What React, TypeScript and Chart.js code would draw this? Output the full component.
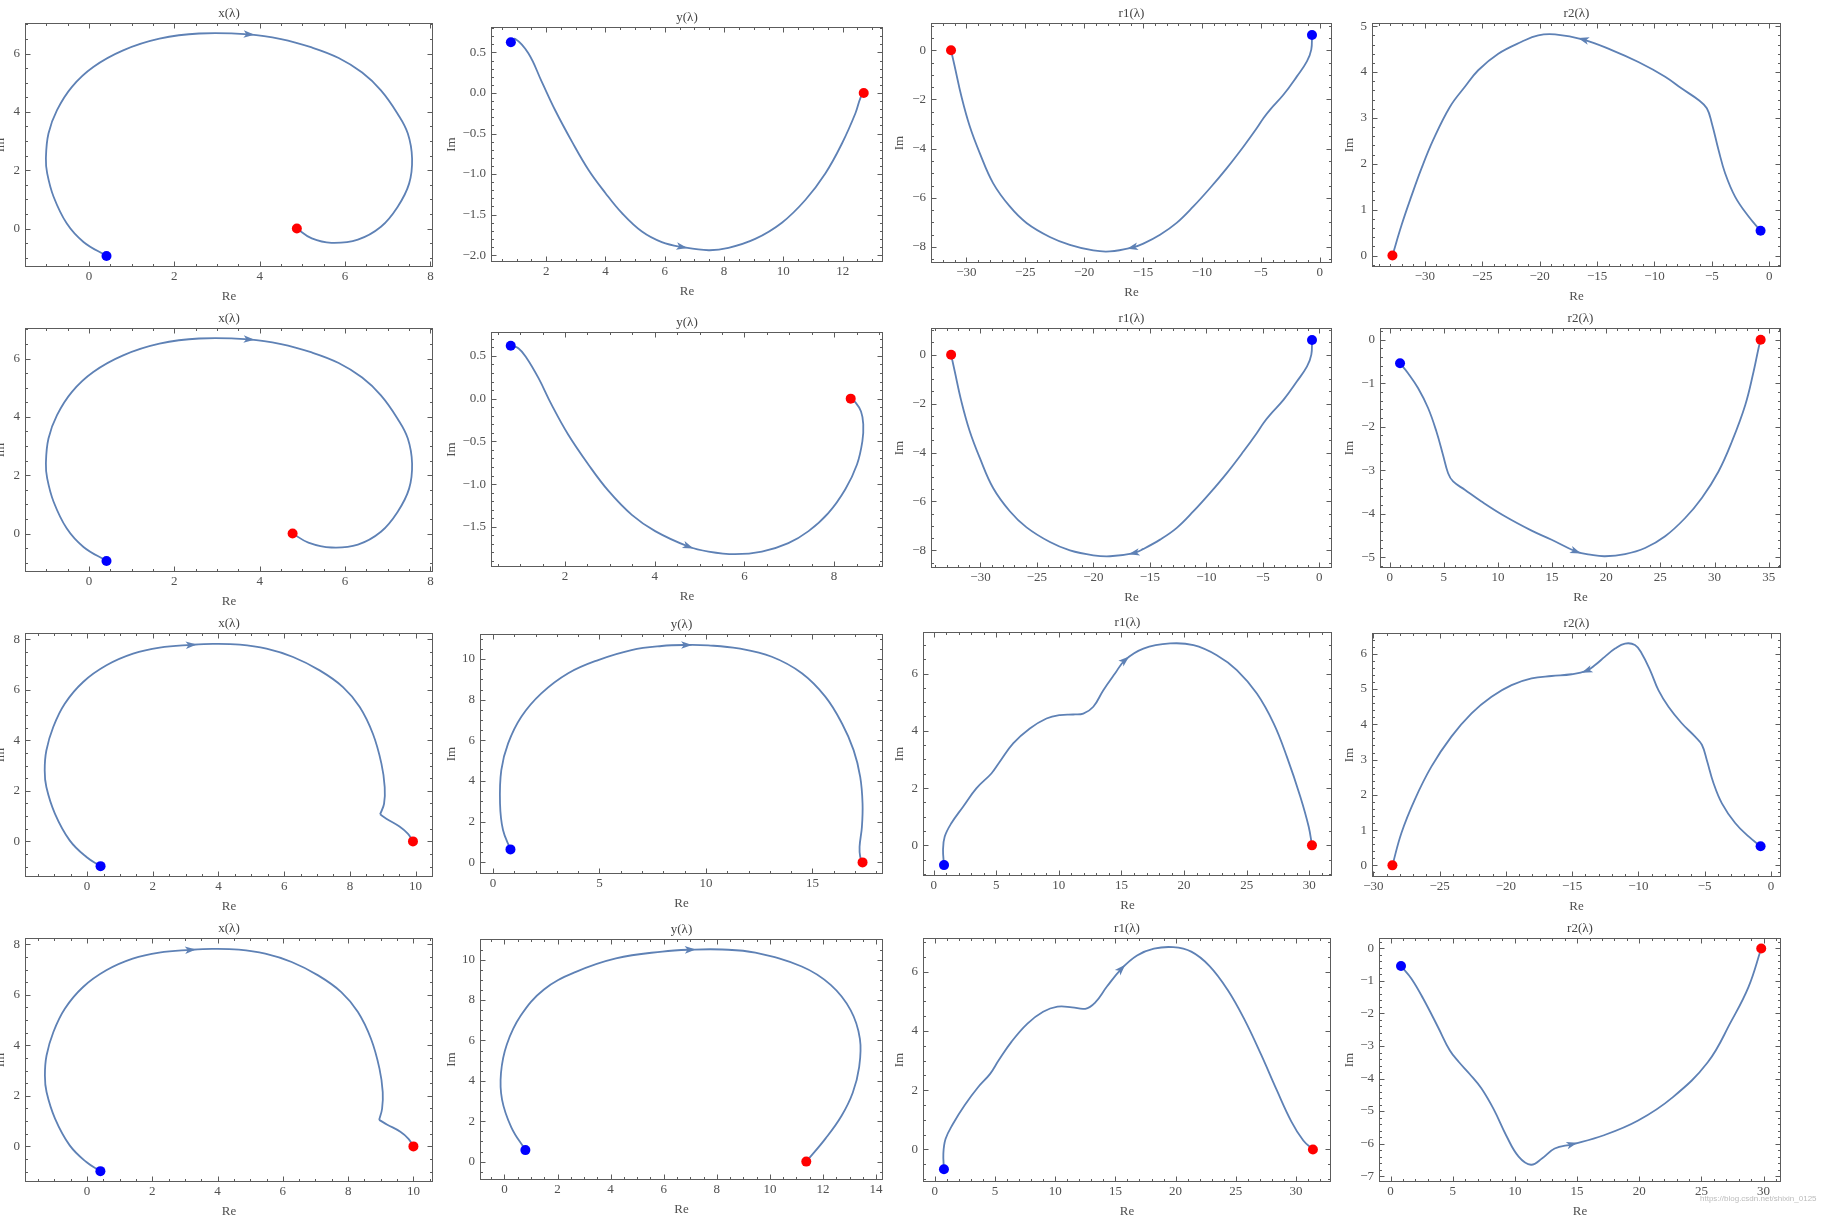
import React, { useEffect, useRef } from "react";
import { Chart, registerables } from "chart.js";

Chart.register(...registerables);

type Pt = [number, number];

// ---------------- data: curves (Re, Im) from blue start to red end ----------------
const xLamA: Pt[] = [[0.41,-0.94],[-0.13,-0.46],[-0.52,0.17],[-0.83,1.09],[-0.98,1.89],[-1.01,2.40],[-0.95,3.26],[-0.75,4.06],[-0.40,4.86],[0.10,5.54],[0.80,6.11],[1.65,6.51],[2.58,6.69],[3.75,6.66],[4.50,6.50],[5.20,6.22],[5.85,5.85],[6.40,5.35],[6.84,4.74],[7.23,3.94],[7.47,3.26],[7.57,2.40],[7.50,1.54],[7.23,0.74],[6.84,0.06],[6.30,-0.38],[5.68,-0.49],[5.22,-0.34],[4.87,0]];
const yLamA: Pt[] = [[0.81,0.625],[0.95,0.67],[1.40,0.49],[1.85,0.14],[2.30,-0.21],[2.87,-0.60],[3.43,-0.95],[3.99,-1.23],[4.55,-1.48],[5.23,-1.71],[5.90,-1.84],[6.58,-1.90],[7.48,-1.94],[8.15,-1.91],[9.05,-1.80],[9.95,-1.60],[10.74,-1.32],[11.42,-0.99],[11.98,-0.62],[12.43,-0.25],[12.60,-0.06],[12.71,0]];
const r1LamA: Pt[] = [[-0.65,0.62],[-0.71,0.03],[-1.08,-0.45],[-1.93,-1.06],[-3.06,-1.80],[-4.20,-2.41],[-4.76,-2.75],[-5.33,-3.16],[-6.46,-3.91],[-7.88,-4.79],[-9.30,-5.60],[-10.72,-6.35],[-12.14,-7.02],[-13.55,-7.50],[-14.97,-7.86],[-15.9,-8.02],[-17.81,-8.18],[-19.22,-8.14],[-21.21,-7.91],[-22.91,-7.59],[-24.89,-7.02],[-26.31,-6.35],[-27.73,-5.40],[-28.86,-4.18],[-29.71,-3.09],[-30.42,-1.87],[-30.99,-0.65],[-31.30,0]];
const r2LamA: Pt[] = [[-0.76,0.54],[-1.80,0.85],[-2.97,1.28],[-3.84,1.79],[-4.42,2.30],[-5.00,2.88],[-5.44,3.21],[-6.16,3.39],[-7.62,3.64],[-9.07,3.90],[-11.40,4.22],[-13.72,4.48],[-16.19,4.71],[-18.66,4.82],[-20.12,4.80],[-21.57,4.66],[-23.60,4.40],[-25.35,4.04],[-26.51,3.68],[-27.82,3.24],[-29.27,2.52],[-30.29,1.90],[-31.16,1.30],[-32.03,0.66],[-32.82,0]];

const xLamB: Pt[] = [[0.41,-0.94],[-0.13,-0.46],[-0.52,0.17],[-0.83,1.09],[-0.98,1.89],[-1.01,2.40],[-0.95,3.26],[-0.75,4.06],[-0.40,4.86],[0.10,5.54],[0.80,6.11],[1.65,6.51],[2.58,6.69],[3.75,6.66],[4.50,6.50],[5.20,6.22],[5.85,5.85],[6.40,5.35],[6.84,4.74],[7.23,3.94],[7.47,3.26],[7.57,2.40],[7.50,1.54],[7.23,0.74],[6.84,0.06],[6.30,-0.38],[5.68,-0.48],[5.14,-0.31],[4.77,0]];
const yLamB: Pt[] = [[0.79,0.62],[0.96,0.59],[1.14,0.48],[1.41,0.24],[1.70,-0.07],[2.07,-0.42],[2.52,-0.77],[2.97,-1.08],[3.49,-1.36],[4.01,-1.55],[4.75,-1.73],[5.20,-1.79],[5.79,-1.82],[6.39,-1.79],[6.98,-1.69],[7.43,-1.55],[7.87,-1.34],[8.25,-1.06],[8.51,-0.77],[8.63,-0.50],[8.65,-0.30],[8.60,-0.15],[8.47,-0.04],[8.37,0]];
const r1LamB: Pt[] = [[-0.65,0.60],[-0.71,0],[-1.09,-0.48],[-1.98,-1.09],[-3.16,-1.84],[-4.35,-2.45],[-4.94,-2.79],[-5.53,-3.20],[-6.71,-3.95],[-8.19,-4.84],[-9.67,-5.65],[-11.14,-6.40],[-12.62,-7.08],[-14.10,-7.56],[-15.58,-7.94],[-16.41,-8.11],[-18.53,-8.24],[-20.01,-8.20],[-22.08,-8.00],[-23.85,-7.66],[-25.92,-7.06],[-27.40,-6.40],[-28.88,-5.45],[-30.06,-4.22],[-30.95,-3.13],[-31.69,-1.91],[-32.28,-0.68],[-32.60,0]];
const r2LamB: Pt[] = [[0.96,-0.54],[1.70,-0.77],[2.62,-1.11],[3.55,-1.57],[4.32,-2.11],[4.93,-2.65],[5.40,-3.07],[5.86,-3.26],[6.94,-3.45],[8.48,-3.72],[10.64,-4.06],[13.11,-4.39],[14.96,-4.60],[17.2,-4.87],[18.66,-4.95],[19.89,-4.98],[21.74,-4.93],[23.59,-4.79],[25.44,-4.52],[27.29,-4.10],[28.83,-3.64],[30.37,-3.03],[31.61,-2.34],[32.84,-1.50],[33.61,-0.73],[34.07,-0.19],[34.26,0]];

const xLamC: Pt[] = [[0.41,-0.98],[-0.02,-0.62],[-0.53,0.04],[-0.98,1.10],[-1.24,2.15],[-1.29,2.81],[-1.24,3.60],[-1.03,4.53],[-0.68,5.45],[-0.12,6.31],[0.59,6.97],[1.40,7.43],[2.21,7.67],[3.17,7.78],[3.83,7.82],[4.65,7.79],[5.46,7.63],[6.27,7.30],[7.08,6.77],[7.79,6.11],[8.30,5.32],[8.70,4.26],[8.96,3.08],[9.06,2.15],[9.04,1.49],[8.92,1.07],[9.11,0.90],[9.51,0.59],[9.77,0.30],[9.92,0]];
const yLamC: Pt[] = [[0.82,0.64],[0.47,1.59],[0.33,2.90],[0.39,4.54],[0.71,5.85],[1.33,7.16],[2.27,8.31],[3.53,9.30],[4.94,9.95],[6.50,10.44],[7.92,10.64],[9.09,10.69],[10.11,10.67],[11.52,10.52],[13.09,10.11],[14.50,9.30],[15.60,8.15],[16.38,6.84],[16.93,5.52],[17.24,4.21],[17.35,2.90],[17.32,1.75],[17.21,0.77],[17.24,0.28],[17.35,0]];
const r1LamC: Pt[] = [[0.83,-0.69],[0.75,-0.16],[0.88,0.30],[1.41,0.77],[2.35,1.35],[3.41,1.99],[4.61,2.51],[5.28,2.92],[6.35,3.56],[7.68,4.08],[9.01,4.43],[10.08,4.55],[11.15,4.57],[11.95,4.60],[12.75,4.84],[13.55,5.42],[14.48,6.00],[15.28,6.47],[16.75,6.87],[18.88,7.05],[20.75,6.99],[22.61,6.64],[24.21,6.12],[25.81,5.30],[27.15,4.26],[28.21,3.09],[29.28,1.70],[29.95,0.65],[30.21,0]];
const r2LamC: Pt[] = [[-0.78,0.54],[-1.69,0.82],[-2.70,1.20],[-3.70,1.76],[-4.33,2.33],[-4.84,2.99],[-5.21,3.42],[-5.72,3.65],[-6.73,4.03],[-7.73,4.50],[-8.49,4.97],[-9.12,5.54],[-9.75,6.01],[-10.26,6.25],[-11.01,6.29],[-11.76,6.15],[-12.52,5.92],[-13.27,5.68],[-13.90,5.52],[-15.04,5.42],[-16.55,5.37],[-18.06,5.30],[-19.57,5.11],[-21.08,4.78],[-22.59,4.31],[-24.11,3.65],[-25.62,2.80],[-26.88,1.86],[-27.88,0.92],[-28.56,0]];

const xLamD: Pt[] = [[0.41,-0.98],[-0.02,-0.62],[-0.53,0.04],[-0.98,1.10],[-1.24,2.15],[-1.29,2.81],[-1.24,3.60],[-1.03,4.53],[-0.68,5.45],[-0.12,6.31],[0.59,6.97],[1.40,7.43],[2.21,7.67],[3.17,7.78],[3.83,7.82],[4.65,7.79],[5.46,7.63],[6.27,7.30],[7.08,6.77],[7.79,6.11],[8.30,5.32],[8.70,4.26],[8.96,3.08],[9.06,2.15],[9.04,1.49],[8.95,1.05],[9.20,0.86],[9.60,0.58],[9.85,0.30],[10.0,0]];
const yLamD: Pt[] = [[0.79,0.57],[0.26,1.70],[-0.09,3.07],[-0.13,4.38],[0.09,5.80],[0.61,7.22],[1.49,8.52],[2.67,9.38],[4.20,10.06],[5.95,10.40],[7.0,10.49],[8.2,10.50],[9.45,10.34],[11.20,9.66],[12.29,8.75],[13.04,7.50],[13.39,6.08],[13.36,4.66],[13.12,3.41],[12.70,2.27],[12.10,1.15],[11.37,0]];
const r1LamD: Pt[] = [[0.77,-0.67],[0.72,-0.15],[0.90,0.35],[1.50,0.85],[2.50,1.50],[3.60,2.10],[4.60,2.55],[5.30,3.00],[6.40,3.65],[7.70,4.25],[9.00,4.65],[10.20,4.82],[11.40,4.80],[12.50,4.75],[13.30,4.95],[14.30,5.50],[15.50,6.10],[16.80,6.55],[18.20,6.78],[19.80,6.83],[21.30,6.68],[22.80,6.20],[24.30,5.40],[25.70,4.40],[27.10,3.20],[28.40,2.00],[29.60,0.95],[30.60,0.30],[31.40,0]];
const r2LamD: Pt[] = [[0.84,-0.54],[1.68,-0.93],[2.62,-1.54],[3.83,-2.43],[4.77,-3.14],[5.51,-3.50],[6.36,-3.86],[7.30,-4.30],[8.30,-4.95],[9.30,-5.75],[10.30,-6.40],[11.30,-6.65],[12.20,-6.45],[13.20,-6.15],[14.60,-6.02],[17.10,-5.75],[19.91,-5.29],[22.71,-4.57],[25.51,-3.50],[27.38,-2.25],[28.79,-1.18],[29.81,0]];

// ---------------- tick values ----------------
const ticks0to8by2 = [0, 2, 4, 6, 8];
const ticks0to6by2 = [0, 2, 4, 6];
const ticks2to12by2 = [2, 4, 6, 8, 10, 12];
const ticks2to8by2 = [2, 4, 6, 8];
const ticksHalfA = [0.5, 0, -0.5, -1, -1.5, -2];
const ticksHalfB = [0.5, 0, -0.5, -1, -1.5];
const ticksNeg30to0 = [-30, -25, -20, -15, -10, -5, 0];
const ticksNeg8to0 = [-8, -6, -4, -2, 0];
const ticks0to5 = [0, 1, 2, 3, 4, 5];
const ticks0to6 = [0, 1, 2, 3, 4, 5, 6];
const ticks0to35by5 = [0, 5, 10, 15, 20, 25, 30, 35];
const ticks0to30by5 = [0, 5, 10, 15, 20, 25, 30];
const ticks0to15by5 = [0, 5, 10, 15];
const ticksNeg5to0 = [-5, -4, -3, -2, -1, 0];
const ticksNeg7to0 = [-7, -6, -5, -4, -3, -2, -1, 0];
const ticks0to10by2 = [0, 2, 4, 6, 8, 10];
const ticks0to14by2 = [0, 2, 4, 6, 8, 10, 12, 14];

const TITLES = ["x(\u03bb)", "y(\u03bb)", "r1(\u03bb)", "r2(\u03bb)"];
const X_LABEL = "Re";
const Y_LABEL = "Im";
const WATERMARK = "https://blog.csdn.net/shixin_0125";

// ---------------- styling / layout ----------------
const FONT = '"Liberation Serif", "Times New Roman", "DejaVu Serif", serif';
const CURVE = "#5E81B5";
const FRAME = "#5c5c5c";
const TEXT = "#505050";
const IM_X = [1, 452, 900, 1350];

interface Panel {
  col: number;
  curve: Pt[];
  arrow: number;
  breaks: number[];
  xr: [number, number];
  yr: [number, number];
  xt: number[];
  yt: number[];
  xm: number;
  ym: number;
  dec: number;
  box: [number, number, number, number];
}

const PANELS: Panel[] = [
  { col: 0, curve: xLamA, arrow: 13, breaks: [], xr: [-1.5, 8.06], yr: [-1.32, 7.05], xt: ticks0to8by2, yt: ticks0to6by2, xm: 0.5, ym: 0.5, dec: 0, box: [25, 23, 433, 267] },
  { col: 1, curve: yLamA, arrow: 11, breaks: [], xr: [0.14, 13.36], yr: [-2.085, 0.814], xt: ticks2to12by2, yt: ticksHalfA, xm: 0.5, ym: 0.1, dec: 1, box: [491, 27, 883, 262] },
  { col: 2, curve: r1LamA, arrow: 15, breaks: [], xr: [-33.0, 1.05], yr: [-8.65, 1.11], xt: ticksNeg30to0, yt: ticksNeg8to0, xm: 1, ym: 0.5, dec: 0, box: [931, 23, 1332, 263] },
  { col: 3, curve: r2LamA, arrow: 12, breaks: [], xr: [-34.6, 1.02], yr: [-0.25, 5.07], xt: ticksNeg30to0, yt: ticks0to5, xm: 1, ym: 0.2, dec: 0, box: [1372, 23, 1781, 267] },

  { col: 0, curve: xLamB, arrow: 13, breaks: [], xr: [-1.5, 8.06], yr: [-1.32, 7.05], xt: ticks0to8by2, yt: ticks0to6by2, xm: 0.5, ym: 0.5, dec: 0, box: [25, 328, 433, 572] },
  { col: 1, curve: yLamB, arrow: 10, breaks: [], xr: [0.35, 9.09], yr: [-1.97, 0.78], xt: ticks2to8by2, yt: ticksHalfB, xm: 0.5, ym: 0.1, dec: 1, box: [491, 332, 883, 567] },
  { col: 2, curve: r1LamB, arrow: 15, breaks: [], xr: [-34.38, 1.12], yr: [-8.72, 1.09], xt: ticksNeg30to0, yt: ticksNeg8to0, xm: 1, ym: 0.5, dec: 0, box: [931, 328, 1332, 568] },
  { col: 3, curve: r2LamB, arrow: 13, breaks: [], xr: [-0.89, 36.14], yr: [-5.25, 0.27], xt: ticks0to35by5, yt: ticksNeg5to0, xm: 1, ym: 0.2, dec: 0, box: [1380, 328, 1781, 568] },

  { col: 0, curve: xLamC, arrow: 13, breaks: [25], xr: [-1.89, 10.53], yr: [-1.41, 8.25], xt: ticks0to10by2, yt: ticks0to8by2, xm: 0.5, ym: 0.5, dec: 0, box: [25, 633, 433, 877] },
  { col: 1, curve: yLamC, arrow: 11, breaks: [], xr: [-0.61, 18.31], yr: [-0.57, 11.23], xt: ticks0to15by5, yt: ticks0to10by2, xm: 1, ym: 0.5, dec: 0, box: [480, 634, 883, 874] },
  { col: 2, curve: r1LamC, arrow: 17, breaks: [], xr: [-0.85, 31.81], yr: [-1.07, 7.45], xt: ticks0to30by5, yt: ticks0to6by2, xm: 1, ym: 0.5, dec: 0, box: [923, 632, 1332, 876] },
  { col: 3, curve: r2LamC, arrow: 18, breaks: [], xr: [-30.1, 0.76], yr: [-0.33, 6.59], xt: ticksNeg30to0, yt: ticks0to6, xm: 1, ym: 0.2, dec: 0, box: [1372, 633, 1781, 877] },

  { col: 0, curve: xLamD, arrow: 13, breaks: [25], xr: [-1.9, 10.6], yr: [-1.41, 8.25], xt: ticks0to10by2, yt: ticks0to8by2, xm: 0.5, ym: 0.5, dec: 0, box: [25, 938, 433, 1182] },
  { col: 1, curve: yLamD, arrow: 10, breaks: [], xr: [-0.92, 14.26], yr: [-0.91, 11.02], xt: ticks0to14by2, yt: ticks0to10by2, xm: 0.5, ym: 0.5, dec: 0, box: [480, 939, 883, 1180] },
  { col: 2, curve: r1LamD, arrow: 16, breaks: [], xr: [-0.97, 32.9], yr: [-1.10, 7.14], xt: ticks0to30by5, yt: ticks0to6by2, xm: 1, ym: 0.5, dec: 0, box: [923, 938, 1331, 1182] },
  { col: 3, curve: r2LamD, arrow: 14, breaks: [], xr: [-0.93, 31.4], yr: [-7.18, 0.32], xt: ticks0to30by5, yt: ticksNeg7to0, xm: 1, ym: 0.2, dec: 0, box: [1379, 938, 1781, 1182] },
];

function fmt(v: number, dec: number): string {
  const s = Math.abs(v).toFixed(dec);
  return (v < -1e-9 ? "\u2212" : "") + s;
}

function splitCurve(curve: Pt[], breaks: number[]): Pt[][] {
  const out: Pt[][] = [];
  let start = 0;
  for (const b of breaks) {
    out.push(curve.slice(start, b + 1));
    start = b;
  }
  out.push(curve.slice(start));
  return out;
}

function makeDecor(p: Panel) {
  return {
    id: "mmaDecor",
    afterDatasetsDraw(chart: any) {
      const { ctx, chartArea: a, scales } = chart;
      const xs = scales.x;
      const ys = scales.y;
      ctx.save();
      // arrowhead
      const pix = (pt: Pt) => [xs.getPixelForValue(pt[0]), ys.getPixelForValue(pt[1])];
      const i = p.arrow;
      const [tx, ty] = pix(p.curve[i]);
      const [ax, ay] = pix(p.curve[i - 1]);
      const [bx, by] = pix(p.curve[i + 1]);
      let dx = bx - ax;
      let dy = by - ay;
      const len = Math.hypot(dx, dy) || 1;
      dx /= len;
      dy /= len;
      const AL = 11;
      const AW = 3.8;
      const nx = -dy;
      const ny = dx;
      const tipX = tx + dx * AL * 0.5;
      const tipY = ty + dy * AL * 0.5;
      ctx.fillStyle = CURVE;
      ctx.beginPath();
      ctx.moveTo(tipX, tipY);
      ctx.lineTo(tipX - dx * AL + nx * AW, tipY - dy * AL + ny * AW);
      ctx.lineTo(tipX - dx * AL * 0.75, tipY - dy * AL * 0.75);
      ctx.lineTo(tipX - dx * AL - nx * AW, tipY - dy * AL - ny * AW);
      ctx.closePath();
      ctx.fill();

      // frame
      const L = Math.round(a.left);
      const T = Math.round(a.top);
      const R = Math.round(a.right);
      const B = Math.round(a.bottom);
      ctx.strokeStyle = FRAME;
      ctx.lineWidth = 1;
      ctx.strokeRect(L + 0.5, T + 0.5, R - L - 1, B - T - 1);

      // ticks on all four sides, pointing inwards
      ctx.beginPath();
      const isMajor = (v: number, majors: number[], step: number) =>
        majors.some((m) => Math.abs(m - v) < step * 0.01);
      const drawX = (v: number, len: number) => {
        const x = Math.round(xs.getPixelForValue(v)) + 0.5;
        if (x < L || x > R) return;
        ctx.moveTo(x, B);
        ctx.lineTo(x, B - len);
        ctx.moveTo(x, T);
        ctx.lineTo(x, T + len);
      };
      const drawY = (v: number, len: number) => {
        const y = Math.round(ys.getPixelForValue(v)) + 0.5;
        if (y < T || y > B) return;
        ctx.moveTo(L, y);
        ctx.lineTo(L + len, y);
        ctx.moveTo(R, y);
        ctx.lineTo(R - len, y);
      };
      for (const v of p.xt) drawX(v, 5.5);
      for (let k = Math.ceil(p.xr[0] / p.xm - 1e-9); k <= Math.floor(p.xr[1] / p.xm + 1e-9); k++) {
        const v = k * p.xm;
        if (!isMajor(v, p.xt, p.xm)) drawX(v, 3);
      }
      for (const v of p.yt) drawY(v, 5.5);
      for (let k = Math.ceil(p.yr[0] / p.ym - 1e-9); k <= Math.floor(p.yr[1] / p.ym + 1e-9); k++) {
        const v = k * p.ym;
        if (!isMajor(v, p.yt, p.ym)) drawY(v, 3);
      }
      ctx.stroke();
      ctx.restore();
    },
  };
}

const TITLE_H = 18;
const XAXIS_H = 38;
const PAD_R = 14;

function PanelChart({ p, title }: { p: Panel; title: string }) {
  const ref = useRef<HTMLCanvasElement>(null);
  const [L, T, R, B] = p.box;
  const wy = L - IM_X[p.col] + 8;
  const cw = wy + (R - L) + PAD_R;
  const ch = TITLE_H + (B - T) + XAXIS_H;

  useEffect(() => {
    if (!ref.current) return;
    const first = p.curve[0];
    const last = p.curve[p.curve.length - 1];
    const segs = splitCurve(p.curve, p.breaks);
    const tickFont = { family: FONT, size: 13, lineHeight: "16px" };
    const chart = new Chart(ref.current, {
      type: "scatter",
      data: {
        datasets: [
          { data: [{ x: first[0], y: first[1] }], pointRadius: 5, pointBackgroundColor: "#0000ff", pointBorderWidth: 0, showLine: false } as any,
          { data: [{ x: last[0], y: last[1] }], pointRadius: 5, pointBackgroundColor: "#ff0000", pointBorderWidth: 0, showLine: false } as any,
          ...segs.map((s) => ({
            data: s.map(([x, y]) => ({ x, y })),
            showLine: true,
            pointRadius: 0,
            borderColor: CURVE,
            borderWidth: 1.8,
            tension: 0.4,
            fill: false,
          })),
        ],
      },
      options: {
        animation: false,
        responsive: false,
        maintainAspectRatio: false,
        events: [],
        layout: { padding: { left: 0, top: 0, right: PAD_R, bottom: 0 } },
        plugins: {
          legend: { display: false },
          tooltip: { enabled: false },
          title: {
            display: true,
            text: title,
            fullSize: false,
            color: "#444",
            font: { family: FONT, size: 13, weight: "normal", lineHeight: "16px" },
            padding: { top: 1, bottom: 1 },
          },
        },
        scales: {
          x: {
            type: "linear",
            position: "bottom",
            min: p.xr[0],
            max: p.xr[1],
            grid: { display: false, drawTicks: false },
            border: { display: false },
            ticks: {
              autoSkip: false,
              maxRotation: 0,
              padding: 2,
              color: TEXT,
              font: tickFont,
              callback: (v: any) => fmt(Number(v), 0),
            },
            title: { display: true, text: X_LABEL, color: TEXT, font: tickFont, padding: 0 },
            afterBuildTicks: (s: any) => {
              s.ticks = p.xt.map((v) => ({ value: v }));
            },
            afterFit: (s: any) => {
              s.height = XAXIS_H;
              s.paddingLeft = 0;
              s.paddingRight = 0;
            },
          },
          y: {
            type: "linear",
            position: "left",
            min: p.yr[0],
            max: p.yr[1],
            grid: { display: false, drawTicks: false },
            border: { display: false },
            ticks: {
              autoSkip: false,
              padding: 5,
              color: TEXT,
              font: tickFont,
              callback: (v: any) => fmt(Number(v), p.dec),
            },
            title: { display: true, text: Y_LABEL, color: TEXT, font: tickFont, padding: 0 },
            afterBuildTicks: (s: any) => {
              s.ticks = p.yt.map((v) => ({ value: v }));
            },
            afterFit: (s: any) => {
              s.width = wy;
              s.paddingTop = 0;
              s.paddingBottom = 0;
            },
          },
        },
      } as any,
      plugins: [makeDecor(p)],
    });
    return () => chart.destroy();
  }, []);

  return (
    <canvas
      ref={ref}
      width={cw}
      height={ch}
      style={{ position: "absolute", left: L - wy, top: T - TITLE_H, width: cw, height: ch }}
    />
  );
}

export default function App() {
  return (
    <div style={{ position: "absolute", left: 0, top: 0, width: 1821, height: 1218, background: "#fff", overflow: "hidden" }}>
      {PANELS.map((p, i) => (
        <PanelChart key={i} p={p} title={TITLES[p.col]} />
      ))}
      <div
        style={{
          position: "absolute",
          left: 1700,
          top: 1194,
          fontFamily: '"Liberation Sans", Arial, sans-serif',
          fontSize: 8,
          lineHeight: "10px",
          color: "rgba(150,150,150,0.65)",
          whiteSpace: "nowrap",
        }}
      >
        {WATERMARK}
      </div>
    </div>
  );
}
